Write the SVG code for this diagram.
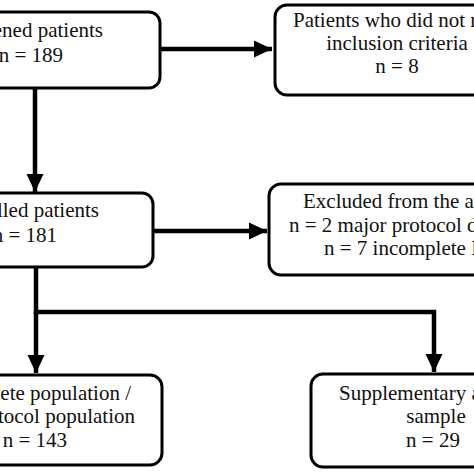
<svg xmlns="http://www.w3.org/2000/svg" width="474" height="474" viewBox="0 0 474 474">
<defs>
<marker id="arr" markerUnits="userSpaceOnUse" markerWidth="20" markerHeight="20" viewBox="0 0 20 20" refX="18" refY="10" orient="auto">
<path d="M0,1.5 L18,10 L0,18.5 Z" fill="#000"/>
</marker>
<style>
.box{fill:#fff;stroke:#000;stroke-width:3}
text{font-family:'Times New Roman','Liberation Serif',serif;font-size:21px;fill:#111}
.c{text-anchor:middle}
.e{text-anchor:end}
.ln{fill:none;stroke:#000;stroke-width:4.5}
</style>
</defs>
<rect width="474" height="474" fill="#fff"/>
<g id="connectors">
<line class="ln" x1="160" y1="49" x2="272" y2="49" marker-end="url(#arr)"/>
<line class="ln" x1="35" y1="88" x2="35" y2="192" marker-end="url(#arr)"/>
<line class="ln" x1="153" y1="231" x2="267" y2="231" marker-end="url(#arr)"/>
<polyline class="ln" points="36,267 36,312 434,312 434,372" marker-end="url(#arr)"/>
<line class="ln" x1="36" y1="312" x2="36" y2="373" marker-end="url(#arr)"/>
</g>
<g id="screened">
<rect class="box" x="-20" y="12" width="180" height="76" rx="11"/>
<text class="e" x="103" y="37">Screened patients</text>
<text class="e" x="63" y="62">n = 189</text>
</g>
<g id="not-met">
<rect class="box" x="275" y="5" width="220" height="90" rx="12"/>
<text x="293" y="27">Patients who did not meet the</text>
<text class="c" x="397" y="50">inclusion criteria</text>
<text class="c" x="397" y="73">n = 8</text>
</g>
<g id="enrolled">
<rect class="box" x="-20" y="193" width="173" height="74" rx="11"/>
<text class="e" x="99" y="217">Enrolled patients</text>
<text class="e" x="57" y="242">n = 181</text>
</g>
<g id="excluded">
<rect class="box" x="269" y="184" width="226" height="91" rx="12"/>
<text x="303" y="208">Excluded from the analysis</text>
<text x="289" y="232">n = 2 major protocol deviations</text>
<text x="324" y="255">n = 7 incomplete Data</text>
</g>
<g id="complete">
<rect class="box" x="-20" y="375" width="182" height="90" rx="12"/>
<text class="e" x="131" y="400">Complete population /</text>
<text class="e" x="135" y="423">Per protocol population</text>
<text class="e" x="67" y="447">n = 143</text>
</g>
<g id="supplementary">
<rect class="box" x="311" y="374" width="184" height="93" rx="12"/>
<text x="339" y="400">Supplementary analysis</text>
<text class="c" x="436" y="423">sample</text>
<text class="c" x="433" y="447">n = 29</text>
</g>
</svg>
